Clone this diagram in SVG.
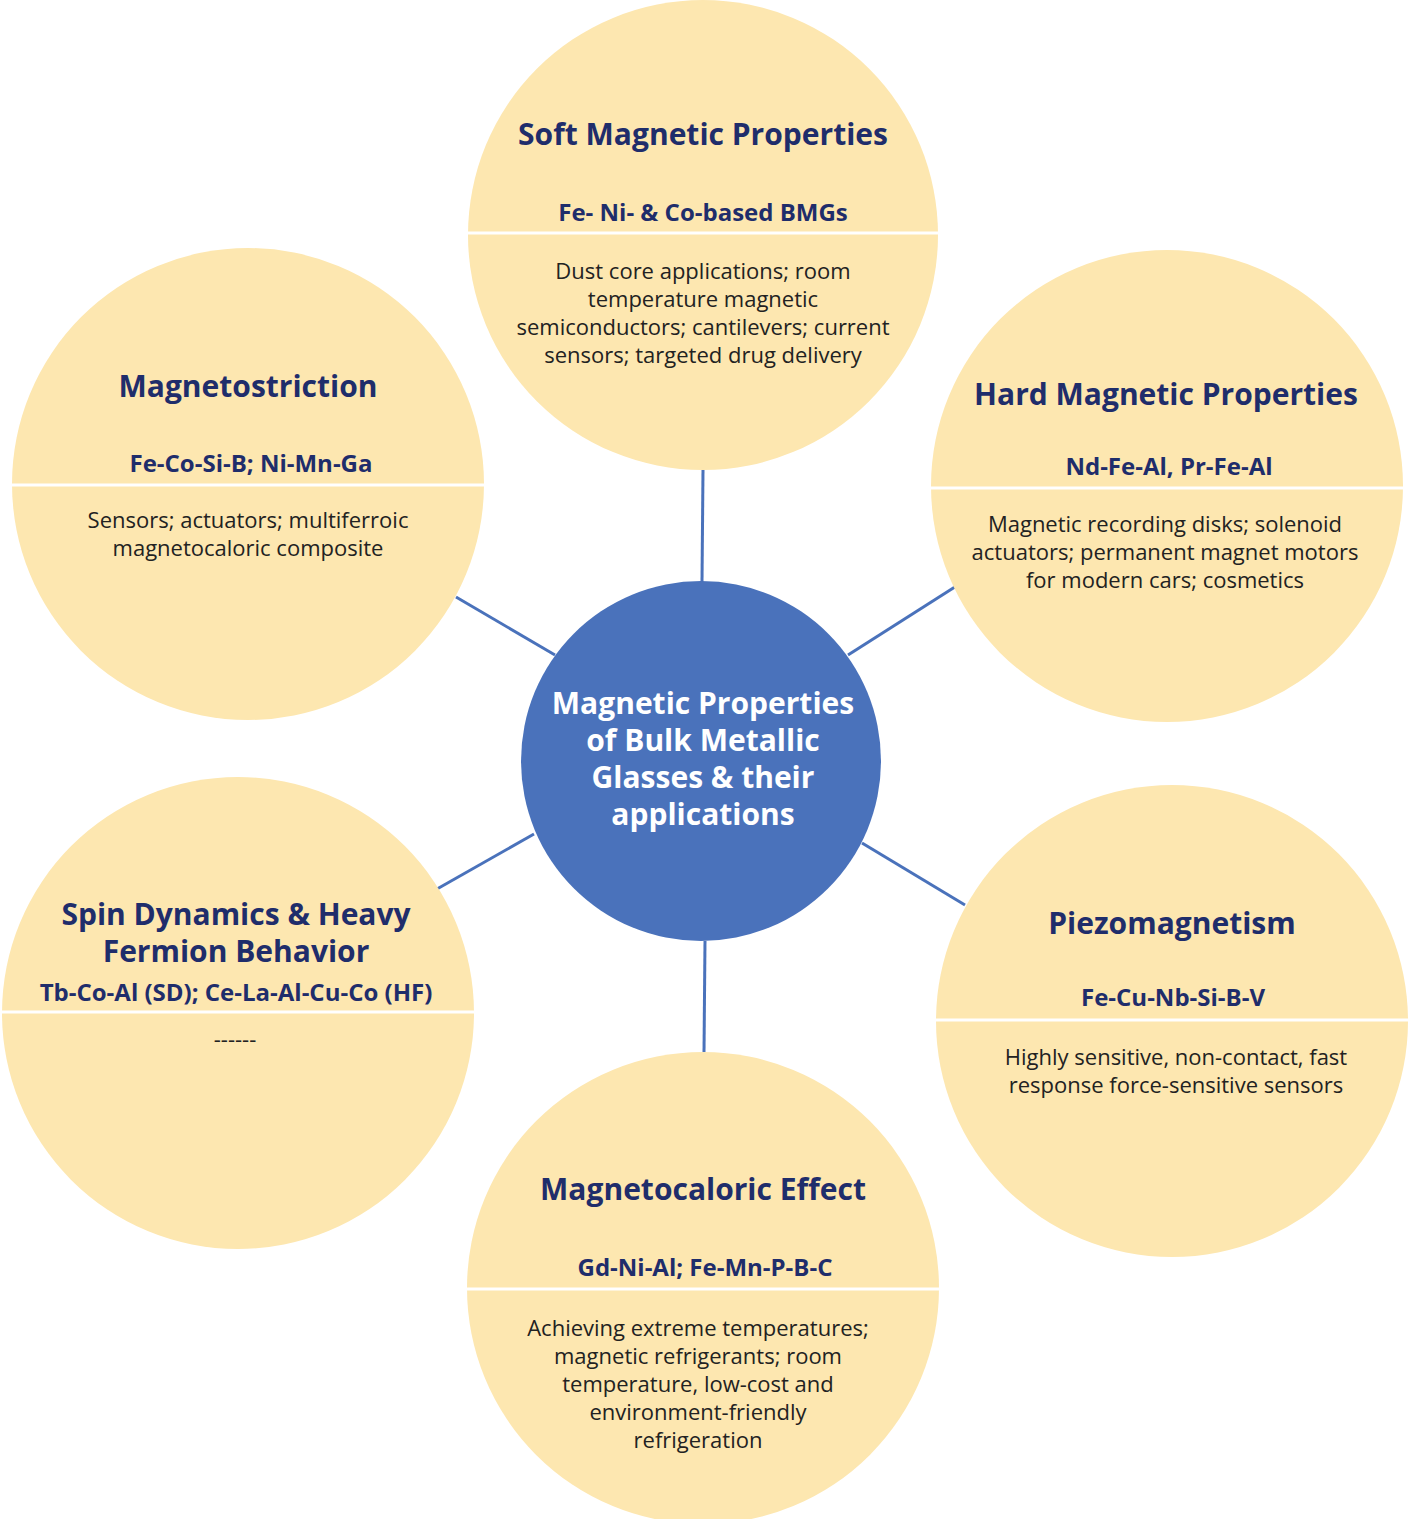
<svg xmlns="http://www.w3.org/2000/svg" width="1420" height="1519" viewBox="0 0 1420 1519">
<style>
.c{fill:#FDE7B0}
.d{stroke:#fff;stroke-width:3}
.t{font-family:"Open Sans",sans-serif;font-weight:bold;font-size:30px;fill:#1F2D6B;text-anchor:middle}
.s{font-family:"Open Sans",sans-serif;font-weight:bold;font-size:24px;fill:#1F2D6B;text-anchor:middle}
.b{font-family:"Open Sans",sans-serif;font-size:22px;fill:#222;text-anchor:middle}
.w{font-family:"Open Sans",sans-serif;font-weight:bold;font-size:30px;fill:#fff;text-anchor:middle}
</style>
<rect width="1420" height="1519" fill="#fff"/>
<g id="connectors" stroke="#4A72BB" stroke-width="3">
<line x1="703" y1="470" x2="702" y2="582"/>
<line x1="456" y1="597" x2="555" y2="655"/>
<line x1="848" y1="655" x2="958" y2="585"/>
<line x1="437" y1="889" x2="534" y2="834"/>
<line x1="862" y1="843" x2="965" y2="905"/>
<line x1="705" y1="941" x2="704" y2="1052"/>
</g>
<g id="soft">
<circle class="c" cx="703" cy="235" r="235"/>
<line class="d" x1="468" y1="233" x2="938" y2="233"/>
<text class="t" x="703" y="145">Soft Magnetic Properties</text>
<text class="s" x="703" y="221">Fe- Ni- &amp; Co-based BMGs</text>
<text class="b" x="703" y="279">Dust core applications; room</text>
<text class="b" x="703" y="307">temperature magnetic</text>
<text class="b" x="703" y="335">semiconductors; cantilevers; current</text>
<text class="b" x="703" y="363">sensors; targeted drug delivery</text>
</g>
<g id="magnetostriction">
<circle class="c" cx="248" cy="484" r="236"/>
<line class="d" x1="12" y1="485" x2="484" y2="485"/>
<text class="t" x="248" y="397">Magnetostriction</text>
<text class="s" x="251" y="472">Fe-Co-Si-B; Ni-Mn-Ga</text>
<text class="b" x="248" y="528">Sensors; actuators; multiferroic</text>
<text class="b" x="248" y="556">magnetocaloric composite</text>
</g>
<g id="hard">
<circle class="c" cx="1167" cy="486" r="236"/>
<line class="d" x1="931" y1="488" x2="1403" y2="488"/>
<text class="t" x="1166" y="405">Hard Magnetic Properties</text>
<text class="s" x="1169" y="475">Nd-Fe-Al, Pr-Fe-Al</text>
<text class="b" x="1165" y="532">Magnetic recording disks; solenoid</text>
<text class="b" x="1165" y="560">actuators; permanent magnet motors</text>
<text class="b" x="1165" y="588">for modern cars; cosmetics</text>
</g>
<g id="center">
<circle cx="701" cy="761" r="180" fill="#4A72BB"/>
<text class="w" x="703" y="714">Magnetic Properties</text>
<text class="w" x="703" y="751">of Bulk Metallic</text>
<text class="w" x="703" y="788">Glasses &amp; their</text>
<text class="w" x="703" y="825">applications</text>
</g>
<g id="spin">
<circle class="c" cx="238" cy="1013" r="236"/>
<line class="d" x1="2" y1="1012" x2="474" y2="1012"/>
<text class="t" x="236" y="925">Spin Dynamics &amp; Heavy</text>
<text class="t" x="236" y="962">Fermion Behavior</text>
<text class="s" x="236" y="1001">Tb-Co-Al (SD); Ce-La-Al-Cu-Co (HF)</text>
<text class="b" x="235" y="1047">------</text>
</g>
<g id="piezo">
<circle class="c" cx="1172" cy="1021" r="236"/>
<line class="d" x1="936" y1="1020" x2="1408" y2="1020"/>
<text class="t" x="1172" y="934">Piezomagnetism</text>
<text class="s" x="1173" y="1006">Fe-Cu-Nb-Si-B-V</text>
<text class="b" x="1176" y="1065">Highly sensitive, non-contact, fast</text>
<text class="b" x="1176" y="1093">response force-sensitive sensors</text>
</g>
<g id="magnetocaloric">
<circle class="c" cx="703" cy="1288" r="236"/>
<line class="d" x1="467" y1="1289" x2="939" y2="1289"/>
<text class="t" x="703" y="1200">Magnetocaloric Effect</text>
<text class="s" x="705" y="1276">Gd-Ni-Al; Fe-Mn-P-B-C</text>
<text class="b" x="698" y="1336">Achieving extreme temperatures;</text>
<text class="b" x="698" y="1364">magnetic refrigerants; room</text>
<text class="b" x="698" y="1392">temperature, low-cost and</text>
<text class="b" x="698" y="1420">environment-friendly</text>
<text class="b" x="698" y="1448">refrigeration</text>
</g>
</svg>
